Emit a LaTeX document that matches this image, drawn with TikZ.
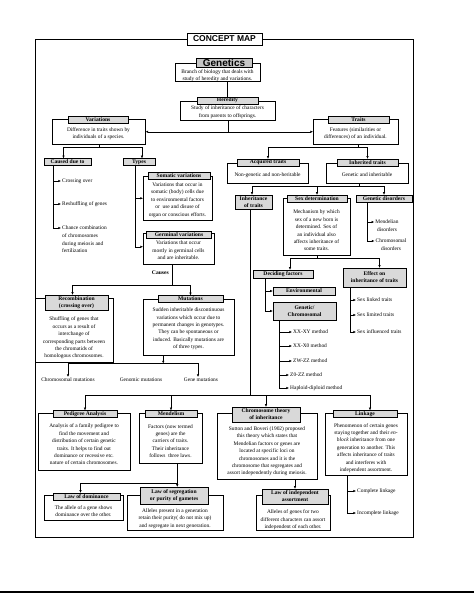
\documentclass[tikz,border=0pt]{standalone}
\usepackage{fontspec}
\setmainfont{Liberation Serif}
\newfontfamily\hsans{Liberation Sans}
\usetikzlibrary{arrows.meta,calc}
\newcommand\dbox[5]{\node[dbox, anchor=north west, minimum width={(#4-#2)*1pt}, minimum height={(#5-#3)*1pt}] (#1) at (#2,#3) {};}
\begin{document}
\begin{tikzpicture}[x=1pt,y=-1pt,
  dbox/.style={draw, line width=0.5pt, inner sep=0pt},
  dtxt/.style={font=\fontsize{5.4}{7.4}\selectfont, align=center, inner sep=0pt},
  hdr/.style={draw, fill=gray!30, line width=0.4pt, font=\fontsize{5.6}{7}\selectfont\bfseries, align=center, inner sep=0.5pt, minimum height=7pt},
  itm/.style={font=\fontsize{5.4}{7.6}\selectfont, align=left, inner sep=1pt, anchor=west},
  arr/.style={-{Latex[length=2.6pt,width=2.4pt]}, line width=0.45pt},
  ln/.style={line width=0.45pt},
  lbl/.style={font=\fontsize{5.6}{7}\selectfont\bfseries, inner sep=1pt}]
\useasboundingbox (0,0) rectangle (474,613);
% frame and title
\node[draw, line width=0.6pt, anchor=north west, minimum width=378pt, minimum height=498pt, inner sep=0pt] (frame) at (35,39) {};
\node[draw, fill=white, line width=0.7pt, font=\hsans\bfseries\fontsize{8.5}{9}\selectfont, minimum width=75pt, minimum height=12pt, inner sep=0pt] (title) at (224.5,39) {CONCEPT MAP};
% Genetics
\dbox{gen}{175}{63}{260}{81}
\node[hdr, fill=gray!45, font=\hsans\bfseries\fontsize{10}{10}\selectfont, minimum width=56pt, minimum height=9.5pt, inner sep=0pt] (gen-h) at (224,62.5) {Genetics};
\node[dtxt, font=\fontsize{5.4}{6.6}\selectfont] (gen-t) at (217.5,75.5) {Branch of biology that deals with\\study of heredity and variations.};
% Heredity
\dbox{her}{180}{101}{275}{120}
\node[hdr, minimum width=61pt] (her-h) at (227.5,100.5) {Heredity};
\node[dtxt] (her-t) at (227.5,112) {Study of inheritance of characters\\from parents to offsprings.};
% Variations
\dbox{var}{52}{119}{145}{144}
\node[hdr, minimum width=60pt] (var-h) at (98,120) {Variations};
\node[dtxt] (var-t) at (98.5,133.5) {Difference in traits shown by\\individuals of a species.};
% Traits
\dbox{tra}{313}{119}{398}{144}
\node[hdr, minimum width=61pt] (tra-h) at (358.5,120) {Traits};
\node[dtxt] (tra-t) at (355.5,133.5) {Features (similarities or\\differences) of an individual.};
% Caused due to / Types
\node[hdr, minimum width=47pt] (cau-h) at (67.5,162) {Caused due to};
\node[hdr, minimum width=32pt] (typ-h) at (139,162) {Types};
\node[itm] (it1) at (61,181) {Crossing over};
\node[itm] (it2) at (61,204) {Reshuffling of genes};
\node[itm, anchor=north west] (it3) at (61,225) {Chance combination\\of chromosomes\\during meiosis and\\fertilization};
% Somatic
\dbox{som}{143}{176}{212}{220}
\node[hdr, minimum width=62pt] (som-h) at (179,176) {Somatic variations};
\node[dtxt] (som-t) at (177.5,200) {Variations that occur in\\somatic (body) cells due\\to environmental factors\\or\ \ use and disuse of\\organ or conscious efforts.};
% Germinal
\dbox{ger}{143}{233}{214}{264}
\node[hdr, minimum width=65pt] (ger-h) at (179,234.5) {Germinal variations};
\node[dtxt] (ger-t) at (178.5,250.5) {Variations that occur\\mostly in germinal cells\\and are inheritable.};
\node[lbl, anchor=east] (causes) at (170,273) {Causes};
% Recombination
\dbox{rec}{35}{298}{113}{362}
\node[hdr, minimum width=63pt, minimum height=15pt] (rec-h) at (76.5,302.5) {Recombination\\(crossing over)};
\node[dtxt] (rec-t) at (74,338) {Shuffling of genes that\\occurs as a result of\\interchange of\\corresponding parts between\\the chromatids of\\homologous chromosomes.};
% Mutations
\dbox{mut}{143}{299}{234}{355}
\node[hdr, minimum width=65pt] (mut-h) at (190.5,299) {Mutations};
\node[dtxt] (mut-t) at (188.5,329) {Sudden inheritable discontinuous\\variations which occur due to\\permanent changes in genotypes.\\They can be spontaneous or\\induced. Basically mutations are\\of three types.};
\node[itm, anchor=center] (cm) at (68,380) {Chromosomal mutations};
\node[itm, anchor=center] (gm) at (141,380) {Genomic mutations};
\node[itm, anchor=center] (gn) at (201,380) {Gene mutations};
% Acquired / Inherited
\dbox{acq}{227}{163}{308}{183}
\node[hdr, minimum width=62pt] (acq-h) at (268,162.5) {Acquired traits};
\node[dtxt] (acq-t) at (267.5,175) {Non-genetic and non-heritable};
\dbox{inh}{326}{163}{408}{183}
\node[hdr, minimum width=61pt] (inh-h) at (367.5,162.5) {Inherited traits};
\node[dtxt] (inh-t) at (367,175) {Genetic and inheritable};
% Inheritance of traits, Sex determination, Genetic disorders
\node[hdr, minimum width=37pt, minimum height=14pt] (iot-h) at (253.5,202) {Inheritance\\of traits};
\dbox{sxd}{283}{198}{350}{255}
\node[hdr, minimum width=60pt] (sxd-h) at (317,198.5) {Sex determination};
\node[dtxt] (sxd-t) at (316.5,230.5) {Mechanism by which\\sex of a new born is\\determined. Sex of\\an individual also\\affects inheritance of\\some traits.};
\node[hdr, minimum width=56pt] (gdi-h) at (384,198.5) {Genetic disorders};
\node[itm, anchor=north, align=center] (md) at (387,219) {Mendelian\\disorders};
\node[itm, anchor=north, align=center] (cd) at (391,238) {Chromosomal\\disorders};
% Deciding factors / Effect
\node[hdr, minimum width=60pt, minimum height=8pt] (dfa-h) at (283,274) {Deciding factors};
\node[hdr, minimum width=62pt, minimum height=8pt] (env-h) at (304,291) {Environmental};
\node[hdr, minimum width=63pt, minimum height=18pt] (gch-h) at (304.5,311) {Genetic/\\Chromosomal};
\node[hdr, minimum width=63pt, minimum height=19pt] (eff-h) at (374.5,277.5) {Effect on\\inheritance of traits};
\node[itm] (m1) at (292,332) {XX-XY method};
\node[itm] (m2) at (292,346) {XX-X0 method};
\node[itm] (m3) at (292,361) {ZW-ZZ method};
\node[itm] (m4) at (289,375) {Z0-ZZ method};
\node[itm] (m5) at (289,388) {Haploid-diploid method};
\node[itm] (e1) at (356,300) {Sex linked traits};
\node[itm] (e2) at (356,315) {Sex limited traits};
\node[itm] (e3) at (356,332) {Sex influenced traits};
% Bottom row
\dbox{ped}{38}{413}{130}{470}
\node[hdr, minimum width=64pt] (ped-h) at (85,414) {Pedigree Analysis};
\node[dtxt] (ped-t) at (84,444.5) {Analysis of a family pedigree to\\find the movement and\\distribution of certain genetic\\traits. It helps to find out\\dominance or recessive etc.\\nature of certain chromosomes.};
\dbox{men}{139}{413}{202}{463}
\node[hdr, minimum width=52pt] (men-h) at (171,414) {Mendelism};
\node[dtxt] (men-t) at (170.5,441) {Factors (now termed\\genes) are the\\carriers of traits.\\Their inheritance\\follows\ \ three laws.};
\dbox{cti}{217}{413}{317}{479}
\node[hdr, minimum width=68pt, minimum height=15pt] (cti-h) at (266,414.5) {Chromosome theory\\of inheritance};
\node[dtxt] (cti-t) at (267,451.5) {Sutton and Boveri (1902) proposed\\this theory which states that\\Mendelian factors or genes are\\located at specific loci on\\chromosomes and it is the\\chromosome that segregates and\\assort independently during meiosis.};
\dbox{lin}{325}{413}{407}{475}
\node[hdr, minimum width=64pt] (lin-h) at (365,414) {Linkage};
\node[dtxt] (lin-t) at (366,448) {Phenomenon of certain genes\\staying together and their \textit{en-}\\\textit{block} inheritance from one\\generation to another. This\\affects inheritance of traits\\and interferes with\\independent assortment.};
\node[itm] (cl) at (356,491) {Complete linkage};
\node[itm] (il) at (356,513) {Incomplete linkage};
% Laws
\dbox{dom}{44}{495}{123}{520}
\node[hdr, minimum width=67pt] (dom-h) at (86.5,496.5) {Law of dominance};
\node[dtxt] (dom-t) at (83.5,511) {The allele of a gene shows\\dominance over the other.};
\dbox{seg}{127}{495}{223}{530}
\node[hdr, minimum width=68pt, minimum height=17pt] (seg-h) at (174,495.5) {Law of segregation\\or purity of gametes};
\node[dtxt] (seg-t) at (175,518.5) {Alleles present in a generation\\retain their purity( do not mix up)\\and segregate in next generation.};
\dbox{ind}{256}{495}{330}{530}
\node[hdr, minimum width=66pt, minimum height=15pt] (ind-h) at (295,496.5) {Law of independent\\assortment};
\node[dtxt] (ind-t) at (293,520) {Alleles of genes for two\\different characters can assort\\independent of each other.};
% page rule
\coordinate (pr1) at (0,592);
\coordinate (pr2) at (474,592);
\draw[line width=1.3pt] (pr1) -- (pr2);
% connectors
\draw[ln] (her-h.north) -- (her-h.north |- gen.south);
\draw[arr] (her.south) |- (var.east);
\draw[arr] (her.south) |- (tra.west);
\draw[ln] (var.south) -- ++(0,3) coordinate (vj);
\draw[arr] (vj) -| ([xshift=-4pt]cau-h.north);
\draw[arr] (vj) -| ([xshift=3pt]typ-h.north);
\draw[arr] ([xshift=-14.5pt]cau-h.south) |- (it1.west);
\draw[arr] ([xshift=-14.5pt]cau-h.south) |- (it2.west);
\draw[arr] ([xshift=-14.5pt]cau-h.south) |- ([yshift=-3pt]it3.north west);
\draw[arr] ([xshift=-4pt]typ-h.south) |- (som.west);
\draw[arr] ([xshift=-4pt]typ-h.south) |- ([yshift=2pt]ger.west);
\draw[ln] ([xshift=-6.5pt]ger.south) -- ++(0,21) coordinate (gj);
\draw[arr] (gj) -| ([xshift=-4pt]rec-h.north);
\draw[arr] (gj) -| (mut-h.north);
\draw[arr] ([xshift=-25.5pt]mut.south) -- ++(0,8) coordinate (mj);
\draw[arr] (mj) -| (cm.north);
\draw[arr] (mj) -| ([xshift=-3pt]gn.north);
\draw[ln] ([xshift=2.5pt]tra.south) -- ++(0,3) coordinate (tj);
\draw[arr] (tj) -| (acq-h.north);
\draw[arr] (tj) -| (inh-h.north);
\draw[ln] ([xshift=-8pt]inh.south) -- ++(0,3) coordinate (ij);
\draw[arr] (ij) -| ([xshift=-1.5pt]iot-h.north);
\draw[arr] (ij) -| (sxd-h.north);
\draw[arr] (ij) -| (gdi-h.north);
\draw[arr] ([xshift=-17pt]gdi-h.south) |- ([yshift=-3pt]md.north west);
\draw[arr] ([xshift=-17pt]gdi-h.south) |- ([yshift=-3pt]cd.north west);
\draw[ln] (sxd.south) -- ++(0,3) coordinate (sj);
\draw[arr] (sj) -| ([xshift=7pt]dfa-h.north);
\draw[arr] (sj) -| ([xshift=5pt]eff-h.north);
\draw[arr] ([xshift=-18pt]dfa-h.south) |- (env-h.west);
\draw[arr] ([xshift=-18pt]dfa-h.south) |- (gch-h.west);
\foreach \m in {m1,m2,m3,m4,m5}
  \draw[arr] ([xshift=-25.5pt]gch-h.south) |- (\m.west);
\foreach \e in {e1,e2,e3}
  \draw[arr] ([xshift=-24.5pt]eff-h.south) |- (\e.west);
\draw[ln] ([xshift=-3.5pt]iot-h.south) -- ++(0,186) coordinate (bj);
\draw[arr] (bj) -| (ped-h.north);
\draw[arr] (bj) -| (men-h.north);
\draw[arr] (bj) -| (cti-h.north);
\draw[arr] (bj) -| ([xshift=5pt]lin-h.north);
\draw[arr] ([xshift=-19pt]lin.south) |- (cl.west);
\draw[arr] ([xshift=-19pt]lin.south) |- (il.west);
\draw[ln] ([xshift=6.5pt]men.south) -- ++(0,20) coordinate (mnj);
\draw[arr] (mnj) -- (mnj |- seg-h.north);
\draw[arr] (mnj) -| ([xshift=-6pt]dom-h.north);
\draw[arr] (ind-h.north |- cti.south) -- (ind-h.north);
\end{tikzpicture}
\end{document}
